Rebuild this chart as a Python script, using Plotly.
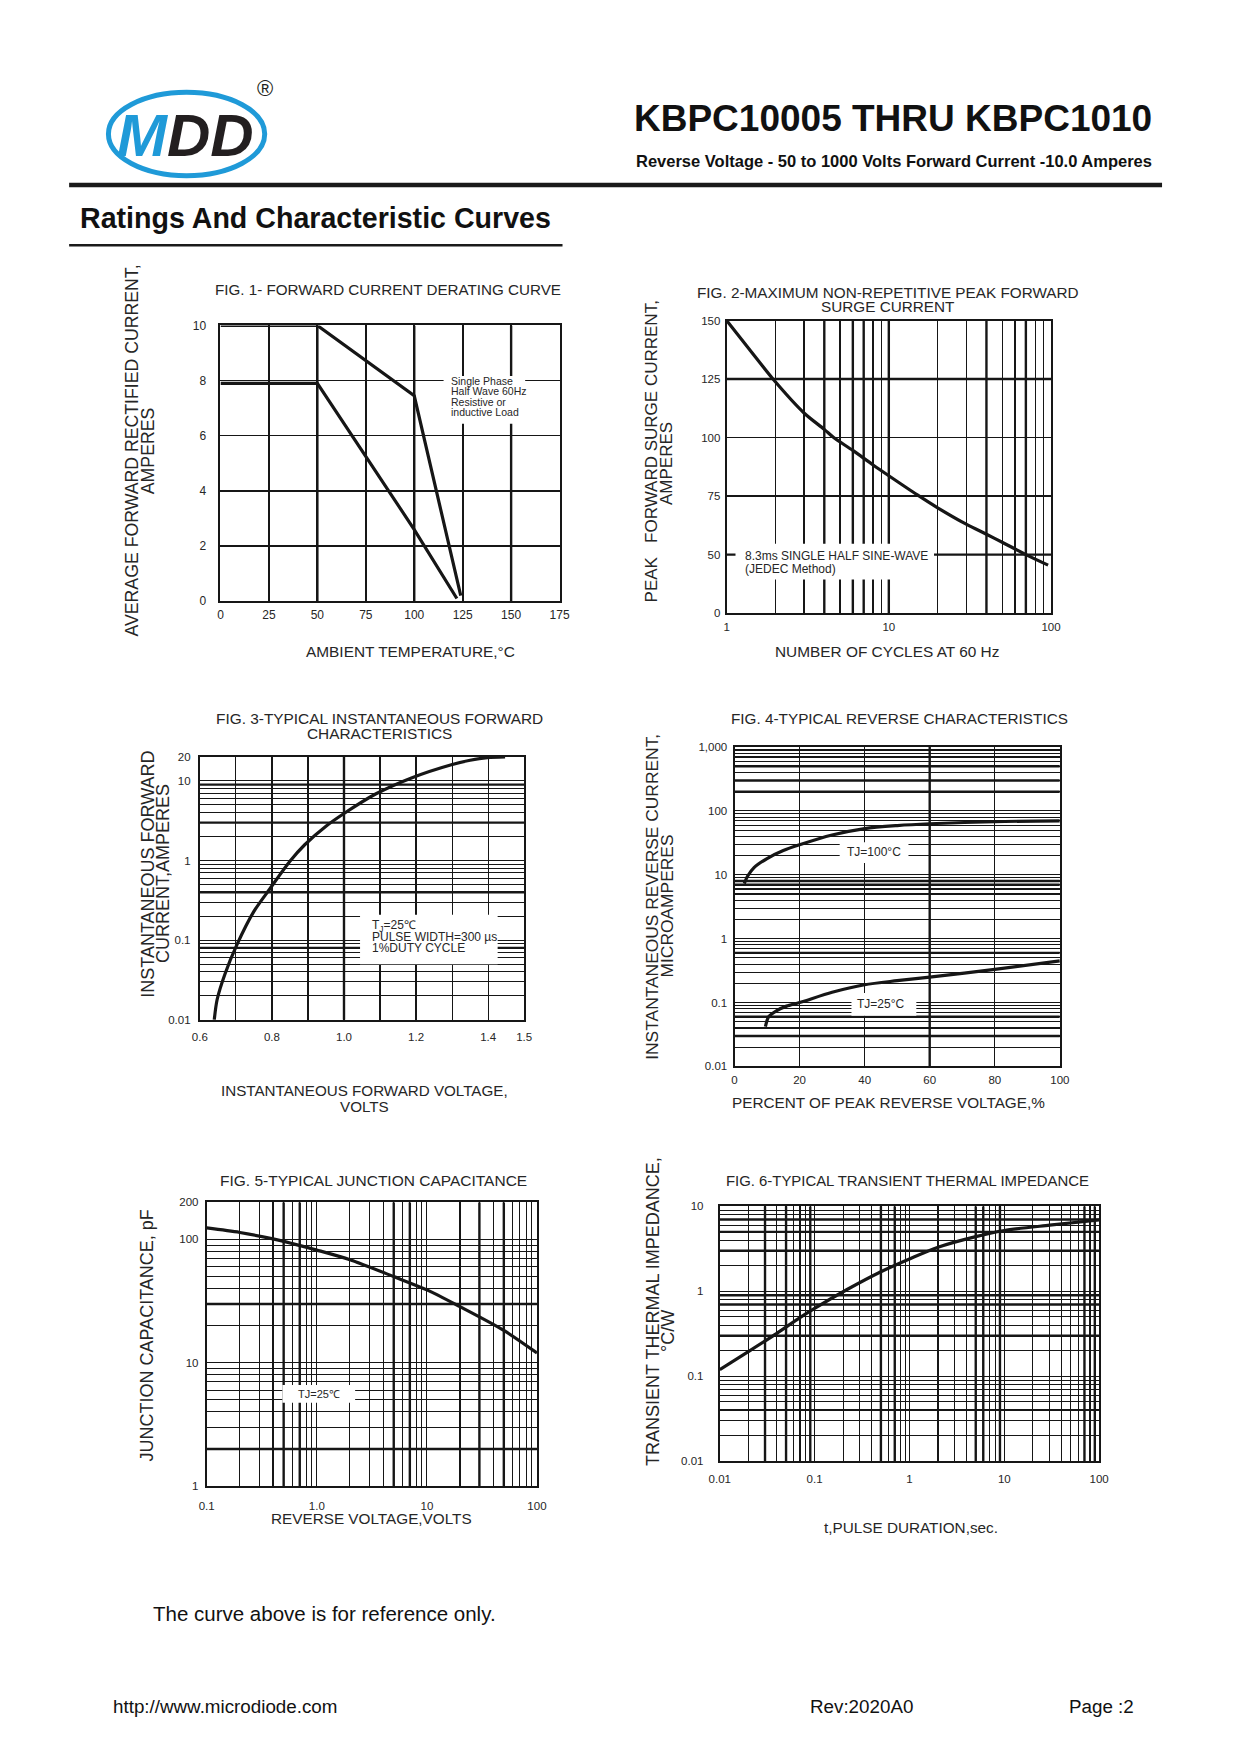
import plotly.graph_objects as go

PAGE_W, PAGE_H = 1240, 1754
MARGIN = 8                      # default body margin of the html page
FW, FH = PAGE_W - 2 * MARGIN, PAGE_H - 2 * MARGIN
INK = "#161616"
TXT = "#262626"
FONT = "Liberation Sans, Arial, Helvetica, sans-serif"

# ---------------- data ----------------
# FIG.1 forward current derating curve
fig1_temp_a = [0, 50, 100, 124]
fig1_amps_a = [10, 10, 7.45, 0.2]
fig1_temp_b = [0, 50, 100, 122]
fig1_amps_b = [7.9, 7.9, 2.6, 0.1]
fig1_xticks = [0, 25, 50, 75, 100, 125, 150, 175]
fig1_yticks = [0, 2, 4, 6, 8, 10]

# FIG.2 max non-repetitive peak forward surge current
fig2_cycles = [1, 1.5, 1.93, 3, 4, 4.57, 6, 8, 10, 15, 20, 30, 40, 50, 70, 96]
fig2_amps = [150, 134.5, 125, 110.5, 103.5, 100, 94.5, 88.3, 83.7, 75.5, 70, 63, 58.7, 55.3, 50, 45.5]
fig2_yvals = [25, 50, 75, 100, 125, 150]
fig2_ytext = ["0", "50", "75", "100", "125", "150"]

# FIG.3 typical instantaneous forward characteristics
fig3_volts = [0.64, 0.648, 0.67, 0.703, 0.75, 0.794, 0.85, 0.891, 0.95, 1.0, 1.089, 1.189, 1.298, 1.35, 1.398, 1.447]
fig3_amps = [0.01, 0.018, 0.038, 0.088, 0.23, 0.44, 0.98, 1.58, 2.7, 3.9, 6.9, 11, 16, 18.2, 19.6, 20]
fig3_xticks = [0.6, 0.7, 0.8, 0.9, 1.0, 1.1, 1.2, 1.3, 1.4, 1.5]
fig3_xlabels = {0.6: "0.6", 0.8: "0.8", 1.0: "1.0", 1.2: "1.2", 1.4: "1.4", 1.5: "1.5"}

# FIG.4 typical reverse characteristics
fig4_pct_100 = [3, 4, 6, 10, 15, 20, 30, 40, 50, 60, 80, 100]
fig4_ir_100 = [7.3, 9.5, 13, 18, 24, 29.5, 42, 53, 59, 63, 68, 70]
fig4_pct_25 = [9.5, 10.5, 13, 16, 20, 30, 40, 50, 60, 80, 100]
fig4_ir_25 = [0.042, 0.06, 0.075, 0.088, 0.1, 0.145, 0.19, 0.22, 0.25, 0.33, 0.45]
fig4_xticks = [0, 20, 40, 60, 80, 100]

# FIG.5 typical junction capacitance
fig5_volts = [0.1, 0.2, 0.4, 0.6, 1, 2, 5, 10, 20, 50, 100]
fig5_pf = [124, 114, 101, 92.5, 82, 68.5, 50, 39, 28.5, 18.3, 12]

# FIG.6 typical transient thermal impedance
fig6_t = [0.01, 0.02, 0.04, 0.07, 0.1, 0.22, 0.5, 1, 2, 5, 10, 30, 100]
fig6_z = [0.12, 0.195, 0.32, 0.49, 0.63, 1.05, 1.7, 2.4, 3.3, 4.4, 5.2, 6.0, 6.9]


def log_grid(e0, e1):
    vals = []
    for e in range(e0, e1):
        for m in range(1, 10):
            vals.append(round(m * 10 ** e, 10))
    vals.append(round(10 ** e1, 10))
    return vals


def texts(vals, labels):
    out = []
    for v in vals:
        t = ""
        for k, s in labels.items():
            if abs(k - v) < 1e-9 * max(1, abs(k)):
                t = s
        out.append(t)
    return out


def PX(x):
    return (x - MARGIN) / FW


def PY(y):
    return 1 - (y - MARGIN) / FH


fig = go.Figure()

# panel boxes in page pixels: (left, right, top, bottom)
panels = {
    1: dict(box=(213, 558, 321, 599), xtype="linear", xr=[0, 175], ytype="linear", yr=[0, 10],
            xv=fig1_xticks, xl={v: str(v) for v in fig1_xticks},
            yv=fig1_yticks, yl={v: str(v) for v in fig1_yticks},
            xgw=1.8, ygw=1.3, xstand=1, ystand=10, tfs=12,
            thick_x=[50, 100, 150], thick_y=[]),
    2: dict(box=(728, 1058, 316, 611), xtype="log", xr=[0, 2], ytype="linear", yr=[25, 150],
            xv=log_grid(0, 2), xl={1: "1", 10: "10", 100: "100"},
            yv=fig2_yvals, yl=dict(zip(fig2_yvals, fig2_ytext)),
            xgw=1.2, ygw=1.4, xstand=2, ystand=2, tfs=11.5,
            thick_x=[4, 6, 7, 10, 40, 70], thick_y=[125, 50]),
    3: dict(box=(192, 522, 756, 1021), xtype="linear", xr=[0.6, 1.5], ytype="log", yr=[-2, 1.30103],
            xv=fig3_xticks, xl=fig3_xlabels,
            yv=log_grid(-2, 1) + [20], yl={0.01: "0.01", 0.1: "0.1", 1: "1", 10: "10", 20: "20"},
            xgw=1.2, ygw=1.1, xstand=5, ystand=5, tfs=11.5,
            thick_x=[1.0], thick_y=[9, 3, 0.4, 0.08]),
    4: dict(box=(736, 1067, 746, 1068), xtype="linear", xr=[0, 100], ytype="log", yr=[-2, 3],
            xv=fig4_xticks, xl={v: str(v) for v in fig4_xticks},
            yv=log_grid(-2, 3), yl={0.01: "0.01", 0.1: "0.1", 1: "1", 10: "10", 100: "100", 1000: "1,000"},
            xgw=1.2, ygw=1.1, xstand=2, ystand=3, tfs=11.5,
            thick_x=[60], thick_y=[500, 300, 200, 8, 7, 0.6, 0.06, 0.03]),
    5: dict(box=(199, 535, 1205, 1491), xtype="log", xr=[-1, 2], ytype="log", yr=[0, 2.30103],
            xv=log_grid(-1, 2), xl={0.1: "0.1", 1: "1.0", 10: "10", 100: "100"},
            yv=log_grid(0, 2) + [200], yl={1: "1", 10: "10", 100: "100", 200: "200"},
            xgw=1.1, ygw=1.2, xstand=8, ystand=4, tfs=11.5,
            thick_x=[0.5, 0.7, 5, 7, 30, 50], thick_y=[30, 2]),
    6: dict(box=(721, 1107, 1209, 1466), xtype="log", xr=[-2, 2], ytype="log", yr=[-2, 1],
            xv=log_grid(-2, 2), xl={0.01: "0.01", 0.1: "0.1", 1: "1", 10: "10", 100: "100"},
            yv=log_grid(-2, 1), yl={0.01: "0.01", 0.1: "0.1", 1: "1", 10: "10"},
            xgw=1.2, ygw=1.2, xstand=6, ystand=12, tfs=11.5,
            thick_x=[0.03, 0.05, 0.09, 0.5, 0.7, 5, 6, 9, 70, 90], thick_y=[7, 5, 3, 0.9, 0.7, 0.3]),
}

layout_axes = {}
for i, p in panels.items():
    l, r, t, b = p["box"]
    sfx = "" if i == 1 else str(i)
    common = dict(showline=True, mirror=True, linecolor=INK, linewidth=2, ticks="",
                  zeroline=False, showgrid=True, gridcolor=INK, tickmode="array",
                  tickfont=dict(family=FONT, size=p["tfs"], color=TXT), fixedrange=True)
    layout_axes["xaxis" + sfx] = dict(common, domain=[PX(l), PX(r)], anchor="y" + sfx, type=p["xtype"],
                                      range=p["xr"], tickvals=p["xv"], ticktext=texts(p["xv"], p["xl"]),
                                      gridwidth=p["xgw"], ticklabelstandoff=p["xstand"])
    layout_axes["yaxis" + sfx] = dict(common, domain=[PY(b), PY(t)], anchor="x" + sfx, type=p["ytype"],
                                      range=p["yr"], tickvals=p["yv"], ticktext=texts(p["yv"], p["yl"]),
                                      gridwidth=p["ygw"], ticklabelstandoff=p["ystand"])
    # heavier grid rules
    ymin = 10 ** p["yr"][0] if p["ytype"] == "log" else p["yr"][0]
    ymax = 10 ** p["yr"][1] if p["ytype"] == "log" else p["yr"][1]
    xmin = 10 ** p["xr"][0] if p["xtype"] == "log" else p["xr"][0]
    xmax = 10 ** p["xr"][1] if p["xtype"] == "log" else p["xr"][1]
    tx, ty = [], []
    for v in p["thick_x"]:
        tx += [v, v, None]
        ty += [ymin, ymax, None]
    for v in p["thick_y"]:
        tx += [xmin, xmax, None]
        ty += [v, v, None]
    if tx:
        fig.add_trace(go.Scatter(x=tx, y=ty, mode="lines", line=dict(color=INK, width=2.4),
                                 xaxis="x" + sfx, yaxis="y" + sfx, hoverinfo="skip", showlegend=False))

CURVE = dict(color=INK, width=3.2)
SPL = dict(CURVE, shape="spline", smoothing=0.8)
fig.add_trace(go.Scatter(x=fig1_temp_a, y=fig1_amps_a, mode="lines", line=CURVE, xaxis="x", yaxis="y"))
fig.add_trace(go.Scatter(x=fig1_temp_b, y=fig1_amps_b, mode="lines", line=CURVE, xaxis="x", yaxis="y"))
fig.add_trace(go.Scatter(x=fig2_cycles, y=fig2_amps, mode="lines", line=SPL, xaxis="x2", yaxis="y2"))
fig.add_trace(go.Scatter(x=fig3_volts, y=fig3_amps, mode="lines", line=SPL, xaxis="x3", yaxis="y3"))
fig.add_trace(go.Scatter(x=fig4_pct_100, y=fig4_ir_100, mode="lines", line=SPL, xaxis="x4", yaxis="y4"))
fig.add_trace(go.Scatter(x=fig4_pct_25, y=fig4_ir_25, mode="lines", line=SPL, xaxis="x4", yaxis="y4"))
fig.add_trace(go.Scatter(x=fig5_volts, y=fig5_pf, mode="lines", line=SPL, xaxis="x5", yaxis="y5"))
fig.add_trace(go.Scatter(x=fig6_t, y=fig6_z, mode="lines", line=SPL, xaxis="x6", yaxis="y6"))

annotations = []
shapes = []


def txt(x, y, s, size, xanchor="center", angle=0, color=TXT, family=FONT):
    annotations.append(dict(x=PX(x), y=PY(y), xref="paper", yref="paper", text=s, showarrow=False,
                            xanchor=xanchor, yanchor="middle", textangle=angle,
                            font=dict(family=family, size=size, color=color)))


def white_box(x0, x1, y0, y1):
    shapes.append(dict(type="rect", xref="paper", yref="paper", x0=PX(x0), x1=PX(x1),
                       y0=PY(y1), y1=PY(y0), fillcolor="white", line=dict(width=0), layer="above"))


def hline(x0, x1, y, w):
    shapes.append(dict(type="line", xref="paper", yref="paper", x0=PX(x0), x1=PX(x1),
                       y0=PY(y), y1=PY(y), line=dict(color="#1a1a1a", width=w)))


# ---------- header ----------
shapes.append(dict(type="circle", xref="paper", yref="paper", x0=PX(99), x1=PX(258),
                   y0=PY(170), y1=PY(86), line=dict(color="#1f9ad8", width=5)))
txt(177, 129, "<b><i><span style='color:#1f9ad8'>M</span>DD</i></b>", 60, color="#231f20")
txt(258, 82, "®", 22, color="#231f20")
txt(1163, 112, "<b>KBPC10005 THRU KBPC1010</b>", 37, xanchor="right", color="#111111")
txt(1163, 155.5, "<b>Reverse Voltage - 50 to 1000 Volts Forward Current -10.0 Amperes</b>", 16.5,
    xanchor="right", color="#111111")
hline(59, 1171, 179.5, 4.5)
txt(68, 213, "<b>Ratings And Characteristic Curves</b>", 28.6, xanchor="left", color="#111111")
hline(59, 561, 240, 2.5)

# ---------- FIG.1 ----------
txt(383, 285, "FIG. 1- FORWARD CURRENT DERATING CURVE", 15.2)
txt(123, 447, "AVERAGE FORWARD RECTIFIED CURRENT,", 17.7, angle=-90)
txt(140, 447, "AMPERES", 17.7, angle=-90)
txt(406, 650, "AMBIENT TEMPERATURE,°C", 15.4)
white_box(440, 523, 372, 420)
for k, line in enumerate(["Single Phase", "Half Wave 60Hz", "Resistive or", "inductive Load"]):
    txt(445, 377 + k * 10.5, line, 10.5, xanchor="left")

# ---------- FIG.2 ----------
txt(892, 287.5, "FIG. 2-MAXIMUM NON-REPETITIVE PEAK FORWARD", 15.3)
txt(892, 302, "SURGE CURRENT", 15.3)
txt(652, 448, "PEAK   FORWARD SURGE CURRENT,", 17, angle=-90)
txt(667, 460, "AMPERES", 17, angle=-90)
txt(891, 650, "NUMBER OF CYCLES AT 60 Hz", 15.4)
white_box(737, 939, 541, 577)
txt(745, 553, "8.3ms SINGLE HALF SINE-WAVE", 12, xanchor="left")
txt(745, 567, "(JEDEC Method)", 12, xanchor="left")

# ---------- FIG.3 ----------
txt(375, 717, "FIG. 3-TYPICAL INSTANTANEOUS FORWARD", 15.4)
txt(375, 732.7, "CHARACTERISTICS", 15.4)
txt(139, 874, "INSTANTANEOUS FORWARD", 18, angle=-90)
txt(154, 873.5, "CURRENT,AMPERES", 18, angle=-90)
txt(360, 1092, "INSTANTANEOUS FORWARD VOLTAGE,", 15.2)
txt(360, 1108.5, "VOLTS", 15.2)
white_box(355, 495, 915, 965)
for k, line in enumerate(["T<sub>J</sub>=25℃", "PULSE WIDTH=300 µs", "1%DUTY CYCLE"]):
    txt(365, 926 + k * 11.5, line, 12, xanchor="left")

# ---------- FIG.4 ----------
txt(904, 717, "FIG. 4-TYPICAL REVERSE CHARACTERISTICS", 15.3)
txt(652, 897, "INSTANTANEOUS REVERSE CURRENT,", 17.4, angle=-90)
txt(667, 906, "MICROAMPERES", 17.4, angle=-90)
txt(893, 1104, "PERCENT OF PEAK REVERSE VOLTAGE,%", 15.3)
white_box(843, 913, 842, 863)
txt(878, 852, "TJ=100°C", 12)
white_box(855, 921, 994, 1017)
txt(885, 1005, "TJ=25°C", 12)

# ---------- FIG.5 ----------
txt(369, 1183, "FIG. 5-TYPICAL JUNCTION CAPACITANCE", 15.5)
txt(138, 1339.5, "JUNCTION CAPACITANCE, pF", 18, angle=-90)
txt(366.5, 1523.5, "REVERSE VOLTAGE,VOLTS", 15.3)
white_box(276, 350, 1389, 1407)
txt(313, 1398, "TJ=25℃", 11)

# ---------- FIG.6 ----------
txt(912, 1183.5, "FIG. 6-TYPICAL TRANSIENT THERMAL IMPEDANCE", 14.9)
txt(653, 1314.5, "TRANSIENT THERMAL IMPEDANCE,", 18, angle=-90)
txt(669, 1335, "°C/W", 18, angle=-90)
txt(916, 1532.5, "t,PULSE DURATION,sec.", 15.3)

# ---------- footer ----------
txt(142, 1619, "The curve above is for reference only.", 20.5, xanchor="left", color="#111111")
txt(102, 1713, "http://www.microdiode.com", 18.8, xanchor="left", color="#111111")
txt(811, 1713, "Rev:2020A0", 18.8, xanchor="left", color="#111111")
txt(1074, 1713, "Page :2", 18.8, xanchor="left", color="#111111")

fig.update_layout(width=FW, height=FH, margin=dict(l=0, r=0, t=0, b=0, pad=0), autosize=False,
                  paper_bgcolor="white", plot_bgcolor="white", showlegend=False,
                  font=dict(family=FONT, color=TXT), annotations=annotations, shapes=shapes,
                  **layout_axes)

fig.write_html("out.html", config={"displayModeBar": False, "staticPlot": True})
